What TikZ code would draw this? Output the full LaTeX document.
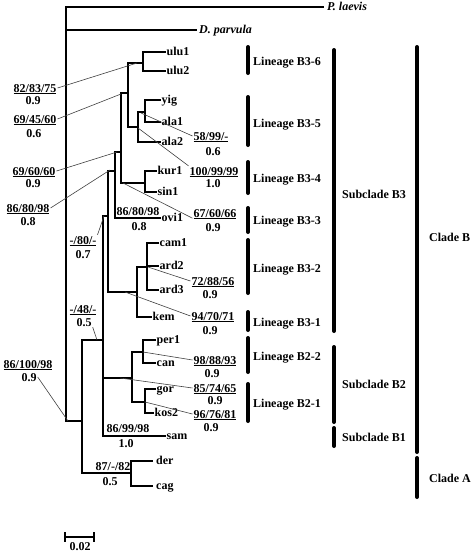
\documentclass[tikz,border=0pt]{standalone}
\usepackage{fontspec}
\setmainfont{Liberation Serif}
\usepackage{tikz}

\begin{document}
\begin{tikzpicture}[
  x=1pt, y=-1pt,
  font=\fontsize{12}{13}\selectfont\bfseries,
  branch/.style={line width=1.8pt, line cap=rect},
  leader/.style={line width=0.6pt, black!75},
  tip/.style={anchor=west, inner sep=1.5pt, text height=6pt, text depth=0pt},
  bs/.style={inner sep=1pt, text height=8pt, text depth=0pt},
  pp/.style={inner sep=1pt, text height=8pt, text depth=0pt},
  cladebar/.style={line width=4pt, line cap=round},
  grp/.style={anchor=west, inner sep=0pt, text height=8pt, text depth=0pt}
]
\useasboundingbox (0,0) rectangle (474,552);

% internal nodes
\coordinate (root)    at (66,7);
\coordinate (ingroup) at (82,421);
\coordinate (cladeA)  at (131,473);
\coordinate (cladeB)  at (103,340);
\coordinate (subB3)   at (108,216);
\coordinate (nA)      at (115,171);
\coordinate (nB)      at (121,152);
\coordinate (nC)      at (128,93);
\coordinate (nU)      at (143,63);
\coordinate (nYA)     at (138,127);
\coordinate (nYA1)    at (145,112);
\coordinate (nKS)     at (145,183);
\coordinate (nL12)    at (137,292);
\coordinate (nCA)     at (147,267);
\coordinate (subB2)   at (132,378);
\coordinate (nPC)     at (143,352);
\coordinate (nGK)     at (145,402);

% tips
\node[tip, inner sep=4pt, font=\fontsize{12}{13}\selectfont\bfseries\itshape] (laevis) at (323,7) {P. laevis};
\node[tip, inner sep=3pt, font=\fontsize{12}{13}\selectfont\bfseries\itshape] (parvula) at (196,30) {D. parvula};
\node[tip] (ulu1) at (165,52) {ulu1};
\node[tip] (ulu2) at (165,71) {ulu2};
\node[tip] (yig)  at (160,100) {yig};
\node[tip] (ala1) at (160,122) {ala1};
\node[tip] (ala2) at (160,142) {ala2};
\node[tip] (kur1) at (156,171) {kur1};
\node[tip] (sin1) at (156,192) {sin1};
\node[tip] (ovi1) at (160,218) {ovi1};
\node[tip] (cam1) at (158,243) {cam1};
\node[tip] (ard2) at (158,266) {ard2};
\node[tip] (ard3) at (158,290) {ard3};
\node[tip] (kem)  at (151,317) {kem};
\node[tip] (per1) at (155,340) {per1};
\node[tip] (can)  at (155,363) {can};
\node[tip] (gor)  at (155,389) {gor};
\node[tip] (kos2) at (153,413) {kos2};
\node[tip] (sam)  at (165,436) {sam};
\node[tip, inner sep=4pt] (der) at (152,461) {der};
\node[tip, inner sep=4pt] (cag) at (152,486) {cag};

% branches
\draw[branch] (root) |- (laevis.west);
\draw[branch] (root) |- (parvula.west);
\draw[branch] (root) |- (ingroup);
\draw[branch] (ingroup) |- (cladeB);
\draw[branch] (ingroup) |- (cladeA);
\draw[branch] (cladeA) |- (der.west);
\draw[branch] (cladeA) |- (cag.west);
\draw[branch] (cladeB) |- (subB3);
\draw[branch] (cladeB) |- (subB2);
\draw[branch] (cladeB) |- (sam.west);
\draw[branch] (subB3) |- (nA);
\draw[branch] (subB3) |- (nL12);
\draw[branch] (nA) |- (nB);
\draw[branch] (nA) |- (ovi1.west);
\draw[branch] (nB) |- (nC);
\draw[branch] (nB) |- (nKS);
\draw[branch] (nC) |- (nU);
\draw[branch] (nC) |- (nYA);
\draw[branch] (nU) |- (ulu1.west);
\draw[branch] (nU) |- (ulu2.west);
\draw[branch] (nYA) |- (nYA1);
\draw[branch] (nYA) |- (ala2.west);
\draw[branch] (nYA1) |- (yig.west);
\draw[branch] (nYA1) |- (ala1.west);
\draw[branch] (nKS) |- (kur1.west);
\draw[branch] (nKS) |- (sin1.west);
\draw[branch] (nL12) |- (nCA);
\draw[branch] (nL12) |- (kem.west);
\draw[branch] (nCA) |- (cam1.west);
\draw[branch] (nCA) |- (ard2.west);
\draw[branch] (nCA) |- (ard3.west);
\draw[branch] (subB2) |- (nPC);
\draw[branch] (subB2) |- (nGK);
\draw[branch] (nPC) |- (per1.west);
\draw[branch] (nPC) |- (can.west);
\draw[branch] (nGK) |- (gor.west);
\draw[branch] (nGK) |- (kos2.west);

% support values, left
\node[bs] (s1) at (35,88)  {\underline{82/83/75}};  \node[pp] (s1p) at (33,100) {0.9};
\node[bs] (s2) at (35,119) {\underline{69/45/60}};  \node[pp] (s2p) at (34,133) {0.6};
\node[bs] (s3) at (34,171) {\underline{69/60/60}};  \node[pp] (s3p) at (33,183) {0.9};
\node[bs] (s4) at (28,208) {\underline{86/80/98}};  \node[pp] (s4p) at (28,221) {0.8};
\node[bs] (s5) at (83,240) {\underline{-/80/-}};    \node[pp] (s5p) at (83,254) {0.7};
\node[bs] (s6) at (83,309) {\underline{-/48/-}};    \node[pp] (s6p) at (84,322) {0.5};
\node[bs] (s7) at (28,364) {\underline{86/100/98}}; \node[pp] (s7p) at (29,377) {0.9};

% support values, right
\node[bs] (r1) at (211,136) {\underline{58/99/-}};   \node[pp] (r1p) at (213,151) {0.6};
\node[bs] (r2) at (214,171) {\underline{100/99/99}}; \node[pp] (r2p) at (213,183) {1.0};
\node[bs] (r3) at (215,213) {\underline{67/60/66}};  \node[pp] (r3p) at (213,227) {0.9};
\node[bs] (r4) at (213,281) {\underline{72/88/56}};  \node[pp] (r4p) at (210,294) {0.9};
\node[bs] (r5) at (213,316) {\underline{94/70/71}};  \node[pp] (r5p) at (210,330) {0.9};
\node[bs] (r6) at (215,360) {\underline{98/88/93}};  \node[pp] (r6p) at (212,373) {0.9};
\node[bs] (r7) at (215,388) {\underline{85/74/65}};  \node[pp] (r7p) at (215,400) {0.9};
\node[bs] (r8) at (215,414) {\underline{96/76/81}};  \node[pp] (r8p) at (211,427) {0.9};

% support values on branches
\node[bs] (i1) at (138,211) {86/80/98}; \node[pp] (i1p) at (139,226) {0.8};
\node[bs] (i2) at (128,428) {86/99/98}; \node[pp] (i2p) at (126,443) {1.0};
\node[bs] (i3) at (113,466) {87/-/82};  \node[pp] (i3p) at (110,481) {0.5};

% leader lines
\coordinate (q1)  at (137,63);
\coordinate (q2)  at (121,94);
\coordinate (q3)  at (117,152);
\coordinate (q4)  at (110,170);
\coordinate (q5)  at (104,216);
\coordinate (q6)  at (97,340);
\coordinate (q7)  at (68,421);
\coordinate (q8)  at (141,113);
\coordinate (q9)  at (138,128);
\coordinate (q10) at (123,183);
\coordinate (q11) at (148,267);
\coordinate (q12) at (125,292);
\coordinate (q13) at (143,352);
\coordinate (q14) at (120,378);
\coordinate (q15) at (145,402);

\draw[leader] (s1.east) -- (q1);
\draw[leader] (s2.east) -- (q2);
\draw[leader] (s3.east) -- (q3);
\draw[leader] (s4.east) -- (q4);
\draw[leader] (s5.north east) -- (q5);
\draw[leader] (s6p.south east) -- (q6);
\draw[leader] (s7p.east) -- (q7);
\draw[leader] (q8) -- (r1.west);
\draw[leader] (q9) -- (r2.north west);
\draw[leader] (q10) -- (r3.south west);
\draw[leader] (q11) -- (r4.west);
\draw[leader] (q12) -- (r5.west);
\draw[leader] (q13) -- (r6.west);
\draw[leader] (q14) -- (r7.west);
\draw[leader] (q15) -- (r8.west);

% lineages
\draw[cladebar] (248,47) -- (248,73);   \node[grp] (lb36) at (253,61)  {Lineage B3-6};
\draw[cladebar] (248,97) -- (248,145);  \node[grp] (lb35) at (253,123) {Lineage B3-5};
\draw[cladebar] (248,162) -- (248,193); \node[grp] (lb34) at (253,178) {Lineage B3-4};
\draw[cladebar] (248,208) -- (248,232); \node[grp] (lb33) at (253,220) {Lineage B3-3};
\draw[cladebar] (248,240) -- (248,293); \node[grp] (lb32) at (253,268) {Lineage B3-2};
\draw[cladebar] (248,312) -- (248,330); \node[grp] (lb31) at (253,322) {Lineage B3-1};
\draw[cladebar] (248,338) -- (248,372); \node[grp] (lb22) at (253,356) {Lineage B2-2};
\draw[cladebar] (248,384) -- (248,421); \node[grp] (lb21) at (253,403) {Lineage B2-1};

% subclades
\draw[cladebar] (334,50) -- (334,331);  \node[grp] (sc3) at (342,194) {Subclade B3};
\draw[cladebar] (334,347) -- (334,422); \node[grp] (sc2) at (342,384) {Subclade B2};
\draw[cladebar] (334,428) -- (334,446); \node[grp] (sc1) at (342,437) {Subclade B1};

% clades
\draw[cladebar] (417,47) -- (417,452);  \node[grp] (clB) at (429,237) {Clade B};
\draw[cladebar] (417,458) -- (417,497); \node[grp] (clA) at (429,478) {Clade A};

% scale bar
\coordinate (sbL) at (65,537);
\coordinate (sbR) at (94,537);
\draw[line width=1.5pt] (sbL) -- (sbR);
\draw[line width=1.5pt] ([yshift=5pt]sbL) -- ([yshift=-5pt]sbL);
\draw[line width=1.5pt] ([yshift=5pt]sbR) -- ([yshift=-5pt]sbR);
\node[pp] (sbtxt) at (80,546) {0.02};

\end{tikzpicture}
\end{document}
